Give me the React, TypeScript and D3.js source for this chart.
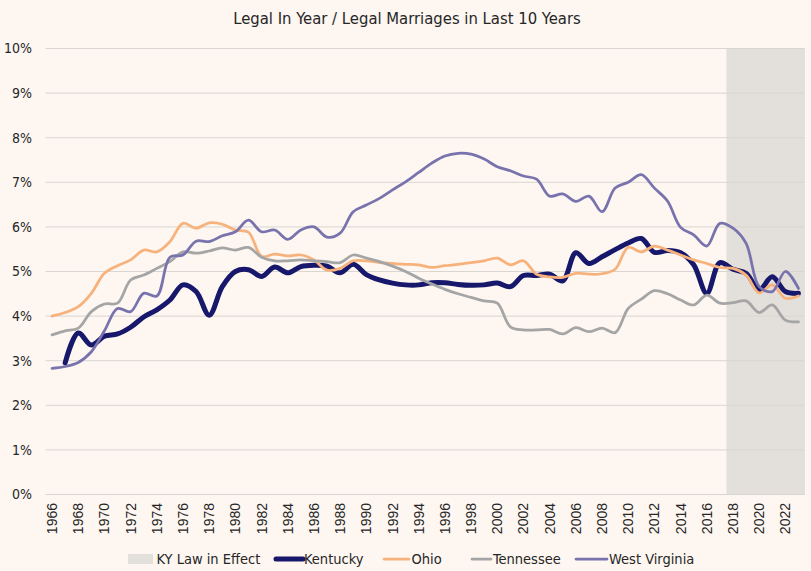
import React from "react";
import * as d3 from "d3";

const years: number[] = d3.range(1966, 2024);
const tickYears: number[] = d3.range(1966, 2024, 2);
const yTicks: number[] = [0, 1, 2, 3, 4, 5, 6, 7, 8, 9, 10];
const lawYears: number[] = [2018, 2019, 2020, 2021, 2022, 2023];

const kentucky: (number | null)[] = [
  null, 2.95, 3.62, 3.35, 3.55, 3.6, 3.75, 3.98, 4.14, 4.36,
  4.7, 4.55, 4.02, 4.66, 5.0, 5.04, 4.89, 5.1, 4.97, 5.11,
  5.14, 5.12, 4.97, 5.16, 4.93, 4.81, 4.74, 4.7, 4.7, 4.75,
  4.75, 4.71, 4.69, 4.7, 4.74, 4.66, 4.91, 4.91, 4.94, 4.79,
  5.42, 5.18, 5.33, 5.49, 5.64, 5.74, 5.43, 5.47, 5.42, 5.15,
  4.51, 5.2, 5.05, 4.96, 4.59, 4.88, 4.55, 4.51,
];
const ohio: number[] = [
  4.0, 4.08, 4.21, 4.51, 4.96, 5.13, 5.26, 5.48, 5.44, 5.67,
  6.08, 5.97, 6.09, 6.06, 5.93, 5.88, 5.34, 5.39, 5.35, 5.37,
  5.26, 5.03, 5.07, 5.24, 5.24, 5.2, 5.18, 5.16, 5.15, 5.09,
  5.13, 5.16, 5.2, 5.24, 5.3, 5.15, 5.24, 4.94, 4.88, 4.87,
  4.96, 4.94, 4.95, 5.05, 5.54, 5.44, 5.57, 5.48, 5.37, 5.26,
  5.18, 5.09, 5.07, 4.92, 4.52, 4.7, 4.4, 4.45,
];
const tennessee: number[] = [
  3.58, 3.67, 3.73, 4.1, 4.27, 4.29, 4.81, 4.92, 5.07, 5.22,
  5.44, 5.41, 5.46, 5.53, 5.48, 5.54, 5.32, 5.24, 5.24, 5.26,
  5.24, 5.22, 5.2, 5.37, 5.3, 5.22, 5.12, 5.0, 4.85, 4.72,
  4.6, 4.5, 4.42, 4.34, 4.29, 3.76, 3.69, 3.69, 3.7, 3.6,
  3.74, 3.65, 3.73, 3.63, 4.17, 4.38, 4.57, 4.5, 4.36, 4.25,
  4.47, 4.29, 4.3, 4.34, 4.08, 4.25, 3.91, 3.87,
];
const westVirginia: number[] = [
  2.83, 2.87, 2.96, 3.2, 3.67, 4.17, 4.1, 4.51, 4.45, 5.32,
  5.37, 5.68, 5.67, 5.8, 5.89, 6.15, 5.89, 5.93, 5.72, 5.93,
  6.0, 5.77, 5.86, 6.34, 6.49, 6.64, 6.83, 7.01, 7.22, 7.43,
  7.59, 7.65, 7.63, 7.52, 7.35, 7.26, 7.14, 7.07, 6.69, 6.74,
  6.57, 6.69, 6.34, 6.87, 7.0, 7.17, 6.87, 6.58, 5.99, 5.82,
  5.57, 6.08, 5.97, 5.63, 4.66, 4.55, 5.0, 4.62,
];

const seriesNames = ["Kentucky", "Ohio", "Tennessee", "West Virginia"];
const seriesData = [kentucky, ohio, tennessee, westVirginia];
const seriesColors = ["#17176b", "#f7b27c", "#a5a5a5", "#7873ad"];
const seriesWidths = [5, 2.75, 2.75, 2.75];

const W = 811;
const H = 571;
const M = { left: 45.5, right: 805, top: 48.5, bottom: 494.5 };
const BG = "#fdf6f1";
const SHADE = "#e3dfda";
const GRID = "#d9d6d2";
const NARROW = "'DejaVu Sans Condensed', 'Liberation Sans Narrow', 'Roboto', sans-serif";

export default function App() {
  const x = d3
    .scaleBand<number>()
    .domain(years)
    .range([M.left, M.right])
    .padding(0);
  const cx = (yr: number) => (x(yr) as number) + x.bandwidth() / 2;
  const y = d3.scaleLinear().domain([0, 10]).range([M.bottom, M.top]);

  const line = d3
    .line<number | null>()
    .defined((d) => d !== null)
    .x((_, i) => cx(years[i]))
    .y((d) => y(d as number))
    .curve(d3.curveCatmullRom.alpha(0.5));

  const shadeX0 = x(lawYears[0]) as number;
  const shadeX1 = (x(lawYears[lawYears.length - 1]) as number) + x.bandwidth();

  const legendItems = [
    { kind: "rect", label: "KY Law in Effect", x0: 128, x1: 153, tx: 156.5 },
    { kind: "line", idx: 0, label: "Kentucky", x0: 276, x1: 303, tx: 304 },
    { kind: "line", idx: 1, label: "Ohio", x0: 384, x1: 409, tx: 411.5 },
    { kind: "line", idx: 2, label: "Tennessee", x0: 472, x1: 491, tx: 493 },
    { kind: "line", idx: 3, label: "West Virginia", x0: 576, x1: 607, tx: 609 },
  ];

  return (
    <svg
      width={W}
      height={H}
      style={{ position: "absolute", left: 0, top: 0, display: "block" }}
    >
      <rect x={0} y={0} width={W} height={H} fill={BG} />
      <text
        x={407}
        y={24}
        textAnchor="middle"
        fontFamily={NARROW}
        fontSize={16.5}
        fill="#262626"
      >
        Legal In Year / Legal Marriages in Last 10 Years
      </text>

      <rect
        x={shadeX0}
        y={M.top}
        width={shadeX1 - shadeX0}
        height={M.bottom - M.top}
        fill={SHADE}
      />

      {yTicks.map((t) => (
        <g key={t}>
          <line
            x1={M.left}
            x2={M.right}
            y1={y(t)}
            y2={y(t)}
            stroke={GRID}
            strokeWidth={1}
          />
          <text
            x={32}
            y={y(t)}
            dy="0.35em"
            textAnchor="end"
            fontFamily={NARROW}
            fontSize={14}
            fill="#262626"
          >
            {t}%
          </text>
        </g>
      ))}

      {tickYears.map((yr) => (
        <text
          key={yr}
          transform={`translate(${cx(yr) + 5},${503}) rotate(-90)`}
          textAnchor="end"
          fontFamily="'Liberation Sans', Arial, sans-serif"
          fontSize={14}
          fill="#262626"
        >
          {yr}
        </text>
      ))}

      {seriesData.map((s, i) => (
        <path
          key={seriesNames[i]}
          d={line(s) || ""}
          fill="none"
          stroke={seriesColors[i]}
          strokeWidth={seriesWidths[i]}
          strokeLinejoin="round"
          strokeLinecap="round"
        />
      ))}

      {legendItems.map((it) => (
        <g key={it.label}>
          {it.kind === "rect" ? (
            <rect x={it.x0} y={554} width={it.x1 - it.x0} height={10} fill={SHADE} />
          ) : (
            <line
              x1={it.x0}
              x2={it.x1}
              y1={559}
              y2={559}
              stroke={seriesColors[it.idx as number]}
              strokeWidth={seriesWidths[it.idx as number]}
              strokeLinecap="round"
            />
          )}
          <text
            x={it.tx}
            y={559}
            dy="0.35em"
            fontFamily={NARROW}
            fontSize={14.5}
            fill="#262626"
          >
            {it.label}
          </text>
        </g>
      ))}
    </svg>
  );
}
